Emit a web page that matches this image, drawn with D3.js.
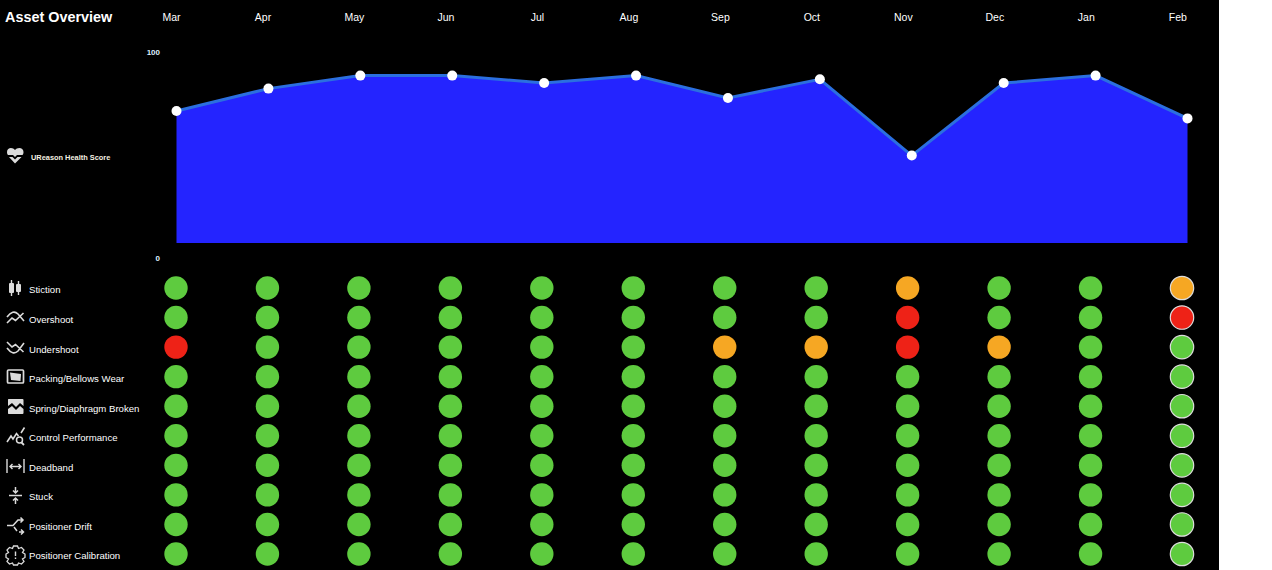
<!DOCTYPE html>
<html><head><meta charset="utf-8">
<style>html,body{margin:0;padding:0;background:#fff;overflow:hidden}svg{display:block;font-family:"Liberation Sans",Arial,sans-serif}</style>
<script src="https://cdnjs.cloudflare.com/ajax/libs/d3/7.8.5/d3.min.js"></script>
</head><body><svg id="c" width="1272" height="570"></svg>
<script>
const months=["Mar","Apr","May","Jun","Jul","Aug","Sep","Oct","Nov","Dec","Jan","Feb"];
const healthScores=[71,83,90,90,86,90,78,88,47,86,90,67];
const yTicks=[0,100];
const issues=["Stiction","Overshoot","Undershoot","Packing/Bellows Wear","Spring/Diaphragm Broken","Control Performance","Deadband","Stuck","Positioner Drift","Positioner Calibration"];
// status: 0 good, 1 warning, 2 critical
const statusStiction=[0,0,0,0,0,0,0,0,1,0,0,1];
const statusOvershoot=[0,0,0,0,0,0,0,0,2,0,0,2];
const statusUndershoot=[2,0,0,0,0,0,1,1,2,1,0,0];
const statusPacking=[0,0,0,0,0,0,0,0,0,0,0,0];
const statusSpring=[0,0,0,0,0,0,0,0,0,0,0,0];
const statusControl=[0,0,0,0,0,0,0,0,0,0,0,0];
const statusDeadband=[0,0,0,0,0,0,0,0,0,0,0,0];
const statusStuck=[0,0,0,0,0,0,0,0,0,0,0,0];
const statusDrift=[0,0,0,0,0,0,0,0,0,0,0,0];
const statusCalibration=[0,0,0,0,0,0,0,0,0,0,0,0];
const statusRows=[statusStiction,statusOvershoot,statusUndershoot,statusPacking,statusSpring,statusControl,statusDeadband,statusStuck,statusDrift,statusCalibration];
const statusColors=["#5ecb3f","#f6a723","#ee2217"];

const svg=d3.select("#c");
svg.append("rect").attr("width",1219).attr("height",570).attr("fill","#000");
svg.append("text").attr("x",5).attr("y",22).attr("fill","#fff").attr("font-size",14.4).attr("font-weight","bold").text("Asset Overview");

const xLabel=d3.scalePoint().domain(months).range([171.5,1177.8]);
const xArea=d3.scalePoint().domain(months).range([176.5,1187.5]);
const xDot=d3.scalePoint().domain(months).range([176,1182]);
const y=d3.scaleLinear().domain([0,100]).range([243,57]);
const yRow=d3.scalePoint().domain(issues).range([288,554]);

svg.append("g").selectAll("text").data(months).join("text")
 .attr("x",d=>xLabel(d)).attr("y",21).attr("text-anchor","middle").attr("fill","#fff").attr("font-size",10.5).text(d=>d);

svg.append("g").selectAll("text").data(yTicks).join("text")
 .attr("x",160).attr("y",d=>d===0?261:55).attr("text-anchor","end").attr("fill","#dfeeff").attr("font-size",8).attr("font-weight","bold").text(d=>d);

const pts=months.map((m,i)=>({m,v:healthScores[i]}));
svg.append("path").datum(pts).attr("fill","#2424ff")
 .attr("d",d3.area().x(d=>xArea(d.m)).y0(y(0)).y1(d=>y(d.v)));
svg.append("path").datum(pts).attr("fill","none").attr("stroke","#2b6fe0").attr("stroke-width",3)
 .attr("d",d3.line().x(d=>xArea(d.m)).y(d=>y(d.v)));
svg.append("g").selectAll("circle").data(pts).join("circle")
 .attr("cx",d=>xArea(d.m)).attr("cy",d=>y(d.v)).attr("r",5).attr("fill","#fff");

// row labels and icons
const W="#dcdcdc";
const icons=[
 g=>{ // Stiction
  [[11.5,283,293],[18.5,284,292]].forEach(([x,a,b])=>{
   g.append("line").attr("x1",x).attr("x2",x).attr("y1",a-3).attr("y2",b+3).attr("stroke",W).attr("stroke-width",1.4);
   g.append("rect").attr("x",x-2.5).attr("y",a).attr("width",5).attr("height",b-a).attr("rx",1).attr("fill",W);
  });
 },
 g=>{ // Overshoot
  g.append("path").attr("d","M7 323 L12 318 L15.5 320.5 L23.5 313 M7 317 Q13 309 18 314 L24 321").attr("fill","none").attr("stroke",W).attr("stroke-width",1.6);
 },
 g=>{ // Undershoot
  g.append("path").attr("d","M7 342 L12 347 L15.5 344.5 L23.5 352 M7 348 Q13 356 18 351 L24 343").attr("fill","none").attr("stroke",W).attr("stroke-width",1.6);
 },
 g=>{ // Packing
  g.append("rect").attr("x",7.5).attr("y",370).attr("width",16).attr("height",13).attr("rx",1).attr("fill","none").attr("stroke",W).attr("stroke-width",1.7);
  g.append("path").attr("d","M10 372.5 L21 374 L20.5 381 L11 380Z").attr("fill",W);
 },
 g=>{ // Spring
  g.append("path").attr("d","M8.5 399 H22.5 Q23.5 399 23.5 400 V406 L20 403 L16 407 L12 403 L8 406 V400 Q8 399 8.5 399Z M8 409 L12 406 L16 410 L20 406 L23.5 409 V413 Q23.5 414 22.5 414 H8.5 Q8 414 8 413Z").attr("fill",W);
 },
 g=>{ // Control performance
  g.append("path").attr("d","M7 442 L11 436 L13 439 L16.5 433.5 L18.5 436 M21 433 L24.5 427.5").attr("fill","none").attr("stroke",W).attr("stroke-width",1.6);
  g.append("circle").attr("cx",19.5).attr("cy",440).attr("r",3).attr("fill","none").attr("stroke",W).attr("stroke-width",1.5);
  g.append("line").attr("x1",21.5).attr("y1",442.5).attr("x2",24).attr("y2",445).attr("stroke",W).attr("stroke-width",1.8);
 },
 g=>{ // Deadband
  g.append("path").attr("d","M7 459 V473 M24 459 V473 M10 466.5 H21 M12.5 464 L10 466.5 L12.5 469 M18.5 464 L21 466.5 L18.5 469").attr("fill","none").attr("stroke",W).attr("stroke-width",1.4);
 },
 g=>{ // Stuck
  g.append("path").attr("d","M9 495.5 H22 M15.5 487 V493 M13 490.5 L15.5 493 L18 490.5 M15.5 504 V498 M13 500.5 L15.5 498 L18 500.5").attr("fill","none").attr("stroke",W).attr("stroke-width",1.5);
 },
 g=>{ // Drift
  g.append("path").attr("d","M7 525.5 H13 L18 520 H23 M20.5 517.5 L23 520 L20.5 522.5 M14 527 L17 531 M19 532 H23 M21 529.5 L23.5 532 L21 534.5").attr("fill","none").attr("stroke",W).attr("stroke-width",1.5);
 },
 g=>{ // Calibration
  g.append("path").attr("d","M13.5 546 H17.5 L18.5 548.5 L21.5 547.5 L24 550 L22.5 552.5 L25 554 V557.5 L22.5 559 L24 561.5 L21.5 564 L18.5 563 L17.5 565 H13.5 L12.5 563 L9.5 564 L7 561.5 L8.5 559 L6 557.5 V554 L8.5 552.5 L7 550 L9.5 547.5 L12.5 548.5Z").attr("fill","none").attr("stroke",W).attr("stroke-width",1.3);
  g.append("path").attr("d","M15.5 551.5 V556 M15.5 557.5 V559").attr("stroke",W).attr("stroke-width",1.4);
 }
];
issues.forEach((name,i)=>{
 const g=svg.append("g");
 icons[i](g);
 g.append("text").attr("x",29).attr("y",yRow(name)+5.4).attr("fill","#fff").attr("font-size",9.6).text(name);
});

// health icon
const h=svg.append("g");
h.append("path").attr("d","M15 150 C13 147 7 147 7 152 C7 153.5 7.5 154.5 8 155 H13 L15 157 L17 155 H22.5 C23 154.5 23.5 153.5 23.5 152 C23.5 147 17 147 15 150Z").attr("fill",W);
h.append("path").attr("d","M9 157 H12.5 L15 159.5 L17.5 157 H21.5 L15 163.5Z").attr("fill",W);
svg.append("text").attr("x",31).attr("y",160).attr("fill","#f4f0e0").attr("font-size",7.4).attr("font-weight","bold").text("UReason Health Score");

// status dots
statusRows.forEach((row,i)=>{
 svg.append("g").selectAll("circle").data(row.map((s,j)=>({s,m:months[j]}))).join("circle")
  .attr("cx",d=>xDot(d.m)).attr("cy",yRow(issues[i])).attr("r",11.7)
  .attr("fill",d=>statusColors[d.s])
  .attr("stroke",d=>d.m==="Feb"?"#ddd":"none").attr("stroke-width",1.2);
});
</script></body></html>
